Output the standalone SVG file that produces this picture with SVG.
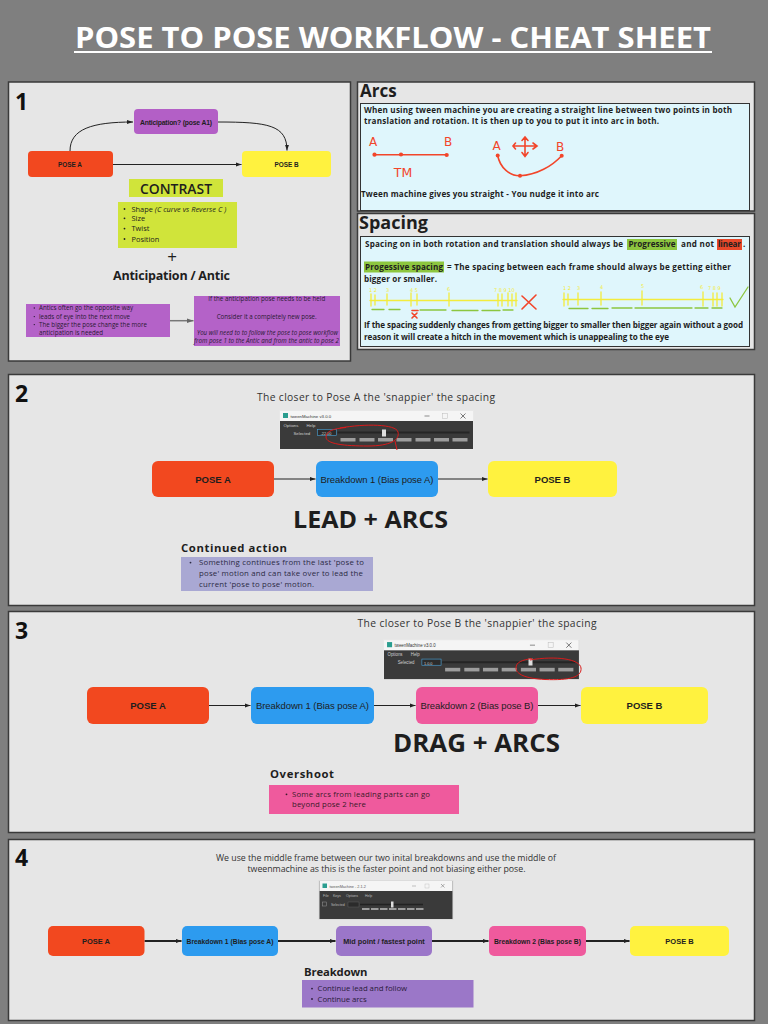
<svg xmlns="http://www.w3.org/2000/svg" xmlns:xlink="http://www.w3.org/1999/xlink" width="768" height="1024" viewBox="0 0 768 1024">
<style>
.panel{fill:#e6e6e6;stroke:#3a3a3a;stroke-width:1.5}
.os{font-family:"Open Sans","DejaVu Sans",sans-serif;fill:#1e1e1e}
.b{font-weight:bold}
.ls{font-family:"Liberation Sans",Arial,sans-serif;fill:#1e1e1e}
.num{font-family:"Open Sans","DejaVu Sans",sans-serif;font-weight:bold;font-size:23px;fill:#111}
.red{fill:#f2481f}.yel{fill:#fff23f}.blu{fill:#2d9bef}.pnk{fill:#ef5a9d}.pur{fill:#9b76c9}
.conn{stroke:#222;stroke-width:1;fill:none;marker-end:url(#ah)}
.conn4{stroke:#222;stroke-width:2;fill:none;marker-end:url(#ah)}
.hand{stroke:#f2452a;stroke-width:1.6;fill:none;stroke-linecap:round}
.hy{stroke:#f3ec3c;stroke-width:1.3;fill:none;stroke-linecap:round}
.hg{stroke:#8cc63f;stroke-width:1.3;fill:none;stroke-linecap:round}
.tiny{font-family:"Liberation Sans",Arial,sans-serif;font-size:4.3px;fill:#cfcfcf}
.btn{fill:#9d9d9d}
.redcirc{stroke:#d91b1b;stroke-width:1;fill:none}
</style>
<defs>
<marker id="ah" viewBox="0 0 10 10" refX="10" refY="5" markerWidth="6" markerHeight="6" markerUnits="userSpaceOnUse" orient="auto"><path d="M0,1.5 L10,5 L0,8.5 z" fill="#222"/></marker>
<marker id="ahg" viewBox="0 0 10 10" refX="10" refY="5" markerWidth="7" markerHeight="7" markerUnits="userSpaceOnUse" orient="auto"><path d="M0,1.5 L10,5 L0,8.5 z" fill="#666"/></marker>
<g id="tmBase">
<rect x="0" y="0" width="194" height="39" fill="#3a3a3a" stroke="#e8e8e8" stroke-width="1"/>
<rect x="0.5" y="0.5" width="193" height="10" fill="#f5f5f5"/>
<rect x="3.5" y="2.5" width="5" height="5" fill="#2a9d8f"/>
<text x="11" y="7.5" class="tiny" style="fill:#333">tweenMachine v3.0.0</text>
<line x1="145" y1="5.5" x2="150" y2="5.5" stroke="#444" stroke-width="0.6"/>
<rect x="163" y="3" width="5" height="5" fill="none" stroke="#bbb" stroke-width="0.5"/>
<path d="M181,3 l5,5 M186,3 l-5,5" stroke="#444" stroke-width="0.7"/>
<text x="4" y="16.5" class="tiny">Options</text>
<text x="27" y="16.5" class="tiny">Help</text>
<text x="14" y="24" class="tiny">Selected</text>
<rect x="38" y="19" width="19" height="6" fill="#2b2b2b" stroke="#4aa3d9" stroke-width="0.6"/>
<line x1="58" y1="22" x2="190" y2="22" stroke="#252525" stroke-width="2"/>
<rect x="61" y="27.5" width="15" height="3.5" class="btn"/>
<rect x="80" y="27.5" width="15" height="3.5" class="btn"/>
<rect x="98.5" y="27.5" width="15" height="3.5" class="btn"/>
<rect x="117" y="27.5" width="15" height="3.5" class="btn"/>
<rect x="136" y="27.5" width="15" height="3.5" class="btn"/>
<rect x="154.5" y="27.5" width="15" height="3.5" class="btn"/>
<rect x="173" y="27.5" width="15" height="3.5" class="btn"/>
</g>
</defs>

<rect x="0" y="0" width="768" height="1024" fill="#7f7f7f"/>

<g id="title">
<text x="75" y="48" class="os b" style="fill:#fff;font-size:28px" textLength="636" lengthAdjust="spacingAndGlyphs">POSE TO POSE WORKFLOW - CHEAT SHEET</text>
<line x1="74" y1="52" x2="712" y2="52" stroke="#fff" stroke-width="2"/>
</g>

<!-- panels -->
<rect x="8.5" y="82" width="342" height="279" class="panel"/>
<rect x="357.5" y="82" width="397" height="129" class="panel"/>
<rect x="357.5" y="213.5" width="397" height="136" class="panel"/>
<rect x="8.5" y="374.5" width="746" height="231" class="panel"/>
<rect x="8.5" y="611.5" width="746" height="221" class="panel"/>
<rect x="8.5" y="839.5" width="746" height="181" class="panel"/>

<!-- ===== SECTION 1 ===== -->
<text x="15" y="109.5" class="num">1</text>

<g id="connectors">
<path d="M70,151 C70,129 92,122 133,122" class="conn" stroke-width="0.8"/>
<path d="M218,122 C268,122 287,125 287,150.5" class="conn" stroke-width="0.8"/>
<line x1="113" y1="164.5" x2="241.5" y2="164.5" class="conn" stroke-width="0.8"/>
<line x1="170" y1="320.7" x2="193.5" y2="320.7" stroke="#777" stroke-width="1.5" marker-end="url(#ahg)"/>
<line x1="274" y1="479" x2="315.5" y2="479" class="conn"/>
<line x1="438" y1="479" x2="487.5" y2="479" class="conn"/>
<line x1="209" y1="705.5" x2="250.5" y2="705.5" class="conn"/>
<line x1="374" y1="705.5" x2="415.5" y2="705.5" class="conn"/>
<line x1="538" y1="705.5" x2="580.5" y2="705.5" class="conn"/>
<line x1="144.5" y1="941" x2="181.5" y2="941" class="conn4"/>
<line x1="278" y1="941" x2="335.5" y2="941" class="conn4"/>
<line x1="432" y1="941" x2="488.5" y2="941" class="conn4"/>
<line x1="586" y1="941" x2="629.5" y2="941" class="conn4"/>
</g>

<g id="s1-antic">
<rect x="134" y="109" width="84" height="25" rx="4" fill="#b35fc6"/>
<text x="176" y="124.5" text-anchor="middle" class="ls b" font-size="6.8" textLength="72">Anticipation? (pose A1)</text>
</g>
<g id="s1-poseA">
<rect x="28" y="151" width="85" height="26" rx="4" class="red"/>
<text x="70" y="166.7" text-anchor="middle" class="ls b" font-size="6.4">POSE A</text>
</g>
<g id="s1-poseB">
<rect x="242" y="151" width="89" height="26" rx="4" class="yel"/>
<text x="286.5" y="166.7" text-anchor="middle" class="ls b" font-size="6.4">POSE B</text>
</g>
<g id="s1-contrast">
<rect x="129" y="179" width="94" height="18" fill="#d0e43a"/>
<text x="176" y="193.7" text-anchor="middle" class="os" font-size="14" font-weight="600" textLength="72" lengthAdjust="spacingAndGlyphs">CONTRAST</text>
</g>
<g id="s1-contrast-list">
<rect x="118" y="202" width="119" height="46" fill="#d0e43a"/>
<g class="os" font-size="7.4">
<circle cx="124.5" cy="209" r="0.9" fill="#222"/><text x="131.5" y="211.5">Shape <tspan font-style="italic">(C curve vs Reverse C )</tspan></text>
<circle cx="124.5" cy="218.3" r="0.9" fill="#222"/><text x="131.5" y="220.8">Size</text>
<circle cx="124.5" cy="228.6" r="0.9" fill="#222"/><text x="131.5" y="231.1">Twist</text>
<circle cx="124.5" cy="239" r="0.9" fill="#222"/><text x="131.5" y="241.5">Position</text>
</g>
</g>
<text x="172" y="262.5" text-anchor="middle" class="os" font-size="17">+</text>
<text x="171.5" y="280" text-anchor="middle" class="os b" font-size="12.5" textLength="117">Anticipation / Antic</text>

<g id="s1-antic-list">
<rect x="26" y="304" width="144" height="33" fill="#b462c8"/>
<g class="os" font-size="6.2" style="fill:#2a1a33">
<circle cx="34.3" cy="308" r="0.7" fill="#2a1a33"/><text x="39" y="310" textLength="94">Antics often go the opposite way</text>
<circle cx="34.3" cy="316.6" r="0.7" fill="#2a1a33"/><text x="39" y="318.6" textLength="91">leads of eye into the next move</text>
<circle cx="34.3" cy="324.6" r="0.7" fill="#2a1a33"/><text x="39" y="326.6" textLength="108">The bigger the pose change the more</text>
<text x="39" y="334.6" textLength="64">anticipation is needed</text>
</g>
</g>
<g id="s1-antic-held">
<rect x="194" y="296" width="146" height="50" fill="#b462c8"/>
<g class="os" font-size="6.2" style="fill:#2a1a33" text-anchor="middle">
<text x="266.7" y="301.2" textLength="117">If the anticipation pose needs to be held</text>
<text x="266.7" y="319" textLength="100">Consider it a completely new pose.</text>
<text x="267.5" y="334.5" font-style="italic" textLength="141">You will need to to follow the pose to pose workflow</text>
<text x="266.5" y="343.3" font-style="italic" textLength="145">from pose 1 to the Antic and from the antic to pose 2</text>
</g>
</g>

<!-- ===== ARCS ===== -->
<g id="arcs">
<text x="360" y="96.5" class="os b" font-size="17">Arcs</text>
<rect x="360.5" y="103.5" width="389" height="107" fill="#dff6fc" stroke="#333" stroke-width="1"/>
<g class="os b" font-size="8.1">
<text x="364" y="113.3" textLength="368">When using tween machine you are creating a straight line between two points in both</text>
<text x="364" y="124.3" textLength="295">translation and rotation.  It is then up to you to put it into arc in both.</text>
<text x="361" y="197" textLength="238">Tween machine gives you straight - You nudge it into arc</text>
</g>
<g font-family="'DejaVu Sans',sans-serif" font-size="12" fill="#f2452a">
<text x="373" y="146" text-anchor="middle">A</text>
<text x="448" y="146" text-anchor="middle">B</text>
<text x="403" y="177" text-anchor="middle" font-size="12.5">TM</text>
<text x="496.5" y="149.5" text-anchor="middle">A</text>
<text x="560" y="151" text-anchor="middle">B</text>
</g>
<line x1="374.5" y1="154.7" x2="446.7" y2="154.7" class="hand"/>
<circle cx="374.5" cy="154.7" r="2.1" fill="#f2452a"/>
<circle cx="401" cy="154.5" r="2.1" fill="#f2452a"/>
<circle cx="446.7" cy="155" r="2.1" fill="#f2452a"/>
<path d="M497.7,155.5 C500,168 510,176 520,175.7 C537,175 552,166 561.7,155.7" class="hand"/>
<circle cx="497.7" cy="155.5" r="2" fill="#f2452a"/>
<circle cx="520" cy="175.7" r="2" fill="#f2452a"/>
<circle cx="561.7" cy="155.7" r="2" fill="#f2452a"/>
<path d="M514,146 L536,146 M525,138 L525,156 M533,143 L537,146 L533,149 M515.5,143 L513,146 L515.5,149 M522,140.5 L525,137 L528,140.5 M522,152.5 L525,156.5 L528,152.5" class="hand" stroke-width="1.5"/>
</g>

<!-- ===== SPACING ===== -->
<g id="spacing">
<text x="359" y="228.5" class="os b" font-size="18">Spacing</text>
<rect x="360.5" y="236.5" width="389" height="110" fill="#dff6fc" stroke="#333" stroke-width="1"/>
<rect x="627" y="239" width="50" height="11" fill="#8dc63f"/>
<rect x="717" y="239" width="25" height="11" fill="#e8482a"/>
<rect x="364" y="261.5" width="80" height="11" fill="#8dc63f"/>
<g class="os b" font-size="8.1">
<text x="365" y="246.8" textLength="258">Spacing on in both rotation and translation should always be</text>
<text x="628.5" y="246.8" textLength="47">Progressive</text>
<text x="681" y="246.8" textLength="33">and not</text>
<text x="718" y="246.8" textLength="23">linear</text>
<text x="743" y="246.8">.</text>
<text x="365" y="269.7" textLength="78">Progessive spacing</text>
<text x="447" y="269.7" textLength="284">= The spacing between each frame should always be getting either</text>
<text x="364" y="282" textLength="73">bigger or smaller.</text>
<text x="364" y="328" textLength="379">If the spacing suddenly changes from getting bigger to smaller then bigger again without a good</text>
<text x="364" y="339.7" textLength="305">reason it will create a hitch in the movement which is unappealing to the eye</text>
</g>
<!-- left timeline sketch -->
<line x1="370" y1="300.5" x2="517" y2="300.5" class="hy"/>
<path d="M371,294 V306 M375,295 V305 M387,294 V305 M411,293 V306 M417,294 V305 M449,293 V306 M498,294 V306 M502,294 V306 M508,293 V306 M512,294 V306 M516,293 V306" class="hy"/>
<g font-family="'DejaVu Sans',sans-serif" font-size="5" fill="#f3ec3c">
<text x="369" y="292">1 2</text><text x="386" y="292">3</text><text x="410" y="292">4 5</text><text x="447" y="291">6</text><text x="494" y="292">7 8 9 10</text>
<text x="563" y="290">1 2</text><text x="577" y="290">3</text><text x="600" y="289">4</text><text x="641" y="288">5</text><text x="700" y="289">6</text><text x="708" y="290">7 8 9</text>
</g>
<path d="M372,309.5 H384 M389,309.5 H400 M420,310 H446 M452,310.5 H478 M482,310.5 H500 M503,310 H513" class="hg"/>
<line x1="412" y1="310.5" x2="418" y2="310.5" class="hand" stroke-width="1.3"/>
<path d="M412,313 L417,318 M417,313 L412,318" class="hand" stroke-width="1.3"/>
<path d="M522,296 L536,309 M536,295 L522,309" class="hand"/>
<!-- right timeline sketch -->
<line x1="563" y1="299.5" x2="723" y2="299.5" class="hy"/>
<path d="M564,293 V306 M568,294 V305 M578,293 V305 M601,292 V305 M642,291 V305 M703,292 V306 M713,293 V306 M717,293 V306 M722,293 V306" class="hy"/>
<path d="M569,308.5 H588 M592,308.5 H608 M612,308 H632 M635,308 H692 M695,308 H708 M712,308 H722" class="hg"/>
<path d="M730,298 L735,307 L748,287" class="hg" stroke-width="1.5"/>
</g>

<!-- ===== SECTION 2 ===== -->
<text x="15" y="402" class="num">2</text>
<text x="376" y="400.5" text-anchor="middle" class="os" font-size="10.3" style="fill:#333" textLength="238">The closer to Pose A the 'snappier' the spacing</text>
<g id="tm-shot-2">
<use xlink:href="#tmBase" transform="translate(279.5,410.5)"/>
<text x="320.5" y="435" class="tiny" style="font-size:3.8px">-22.00</text>
<rect x="382" y="429.5" width="4" height="7" fill="#dedede"/>
<path d="M340,428 C365,423.5 396,424 398,432 C400,440 390,446 368,446 C344,446 326,444 326,437 C326,431 334,428.5 346,427.5 M395,441 L397,450" class="redcirc"/>
</g>
<g id="s2-poseA">
<rect x="152" y="461" width="122" height="36" rx="6" class="red"/>
<text x="213" y="482.5" text-anchor="middle" class="ls b" font-size="9.5">POSE A</text>
</g>
<g id="s2-bd1">
<rect x="316" y="461" width="122" height="36" rx="6" class="blu"/>
<text x="377" y="482.5" text-anchor="middle" class="ls" font-size="9.5" textLength="113">Breakdown 1 (Bias pose A)</text>
</g>
<g id="s2-poseB">
<rect x="488" y="461" width="129" height="36" rx="6" class="yel"/>
<text x="552.5" y="482.5" text-anchor="middle" class="ls b" font-size="9.5">POSE B</text>
</g>
<text x="370.5" y="527.5" text-anchor="middle" class="os b" font-size="24" textLength="155" lengthAdjust="spacingAndGlyphs">LEAD + ARCS</text>
<g id="s2-continued">
<text x="181" y="551.5" class="os b" font-size="11.3" textLength="106">Continued action</text>
<rect x="181" y="557" width="192" height="34" fill="#a9a8d3"/>
<g class="os" font-size="7.8" style="fill:#2b2b44">
<circle cx="190.5" cy="562.6" r="0.9" fill="#2b2b44"/>
<text x="199" y="565" textLength="165">Something continues from the last 'pose to</text>
<text x="199" y="576" textLength="164">pose' motion and can take over to lead the</text>
<text x="199" y="587" textLength="115">current 'pose to pose' motion.</text>
</g>
</g>

<!-- ===== SECTION 3 ===== -->
<text x="15" y="638.5" class="num">3</text>
<text x="477" y="627" text-anchor="middle" class="os" font-size="10.3" style="fill:#333" textLength="239">The closer to Pose B the 'snappier' the spacing</text>
<g id="tm-shot-3">
<use xlink:href="#tmBase" transform="translate(383.5,639.5) scale(1.01,1.03)"/>
<text x="424" y="664.5" class="tiny" style="font-size:3.8px">1.0.0</text>
<rect x="528.5" y="658.5" width="4" height="7" fill="#dedede"/>
<path d="M530,660 C556,655.5 580,659 581,668 C582,677 570,680.5 545,679.5 C525,678.5 516,674 516,668 C516,662 522,660 532,658.5" class="redcirc"/>
</g>
<g id="s3-poseA">
<rect x="87" y="687" width="122" height="37" rx="6" class="red"/>
<text x="148" y="709" text-anchor="middle" class="ls b" font-size="9.5">POSE A</text>
</g>
<g id="s3-bd1">
<rect x="251" y="687" width="123" height="37" rx="6" class="blu"/>
<text x="312.5" y="709" text-anchor="middle" class="ls" font-size="9.5" textLength="113">Breakdown 1 (Bias pose A)</text>
</g>
<g id="s3-bd2">
<rect x="416" y="687" width="122" height="37" rx="6" class="pnk"/>
<text x="477" y="709" text-anchor="middle" class="ls" font-size="9.5" textLength="113">Breakdown 2 (Bias pose B)</text>
</g>
<g id="s3-poseB">
<rect x="581" y="687" width="127" height="37" rx="6" class="yel"/>
<text x="644.5" y="709" text-anchor="middle" class="ls b" font-size="9.5">POSE B</text>
</g>
<text x="476.5" y="752" text-anchor="middle" class="os b" font-size="25.5" textLength="167" lengthAdjust="spacingAndGlyphs">DRAG + ARCS</text>
<g id="s3-overshoot">
<text x="270" y="777.5" class="os b" font-size="11.3" textLength="64">Overshoot</text>
<rect x="269" y="785" width="190" height="29" class="pnk"/>
<g class="os" font-size="7.8" style="fill:#3a1a2a">
<circle cx="286.5" cy="794.3" r="0.9" fill="#3a1a2a"/>
<text x="292" y="797" textLength="138">Some arcs from leading parts can go</text>
<text x="292" y="807" textLength="74">beyond pose 2 here</text>
</g>
</g>

<!-- ===== SECTION 4 ===== -->
<text x="15" y="866" class="num">4</text>
<g class="os" font-size="8.8" style="fill:#333" text-anchor="middle">
<text x="386" y="860.7" textLength="340">We use the middle frame between our two inital breakdowns and use the middle of</text>
<text x="386.5" y="872" textLength="278">tweenmachine as this is the faster point and not biasing either pose.</text>
</g>
<g id="tm-shot-4">
<rect x="319" y="880.5" width="134" height="39" fill="#3a3a3a" stroke="#dcdcdc" stroke-width="1"/>
<rect x="319.5" y="881" width="133" height="10" fill="#f5f5f5"/>
<rect x="322.5" y="883.5" width="4.5" height="4.5" fill="#2a9d8f"/>
<text x="329.5" y="888" class="tiny" style="fill:#555;font-size:3.8px">tweenMachine - 2.1.2</text>
<line x1="412" y1="886" x2="416" y2="886" stroke="#888" stroke-width="0.5"/>
<rect x="425" y="884" width="4" height="4" fill="none" stroke="#bbb" stroke-width="0.4"/>
<path d="M441,884 l3.5,3.5 M444.5,884 l-3.5,3.5" stroke="#777" stroke-width="0.6"/>
<g class="tiny" style="font-size:3.5px;fill:#bbb">
<text x="323" y="896.5">File</text><text x="333" y="896.5">Keys</text><text x="346" y="896.5">Options</text><text x="365" y="896.5">Help</text>
<text x="331" y="905.5">Selected</text><text x="349.5" y="906">0.0</text>
</g>
<rect x="322.5" y="902" width="4" height="4" fill="none" stroke="#999" stroke-width="0.5"/>
<rect x="348" y="902" width="11" height="5" fill="#2b2b2b" stroke="#666" stroke-width="0.4"/>
<line x1="360" y1="904.5" x2="423" y2="904.5" stroke="#222" stroke-width="1.3"/>
<rect x="391" y="901.5" width="2.5" height="6" fill="#dedede"/>
<g class="btn"><rect x="362" y="908" width="7.5" height="2"/><rect x="371" y="908" width="7.5" height="2"/><rect x="380" y="908" width="7.5" height="2"/><rect x="389" y="908" width="7.5" height="2"/><rect x="398" y="908" width="7.5" height="2"/><rect x="407" y="908" width="7.5" height="2"/><rect x="416" y="908" width="7.5" height="2"/></g>
</g>
<g id="s4-poseA">
<rect x="48" y="926" width="96.5" height="30" rx="5" class="red"/>
<text x="96" y="943.7" text-anchor="middle" class="ls b" font-size="7.5">POSE A</text>
</g>
<g id="s4-bd1">
<rect x="182" y="926" width="96" height="30" rx="5" class="blu"/>
<text x="230" y="943.7" text-anchor="middle" class="ls b" font-size="7.5" textLength="87" lengthAdjust="spacingAndGlyphs">Breakdown 1 (Bias pose A)</text>
</g>
<g id="s4-mid">
<rect x="336" y="926" width="96" height="30" rx="5" class="pur"/>
<text x="384" y="943.7" text-anchor="middle" class="ls b" font-size="7.5" textLength="81.5" lengthAdjust="spacingAndGlyphs">Mid point / fastest point</text>
</g>
<g id="s4-bd2">
<rect x="489" y="926" width="97" height="30" rx="5" class="pnk"/>
<text x="537.5" y="943.7" text-anchor="middle" class="ls b" font-size="7.5" textLength="87" lengthAdjust="spacingAndGlyphs">Breakdown 2 (Bias pose B)</text>
</g>
<g id="s4-poseB">
<rect x="630" y="926" width="99" height="30" rx="5" class="yel"/>
<text x="679.5" y="943.7" text-anchor="middle" class="ls b" font-size="7.5">POSE B</text>
</g>
<g id="s4-breakdown">
<text x="304" y="976" class="os b" font-size="11.3" textLength="63.5">Breakdown</text>
<rect x="302" y="980" width="171.5" height="27.5" fill="#9b77c8"/>
<g class="os" font-size="7.8" style="fill:#2a1a3a">
<circle cx="312" cy="988.6" r="0.9" fill="#2a1a3a"/>
<text x="317.6" y="991" textLength="89.5">Continue lead and follow</text>
<circle cx="312" cy="999" r="0.9" fill="#2a1a3a"/>
<text x="317.6" y="1001.5" textLength="49">Continue arcs</text>
</g>
</g>
</svg>
